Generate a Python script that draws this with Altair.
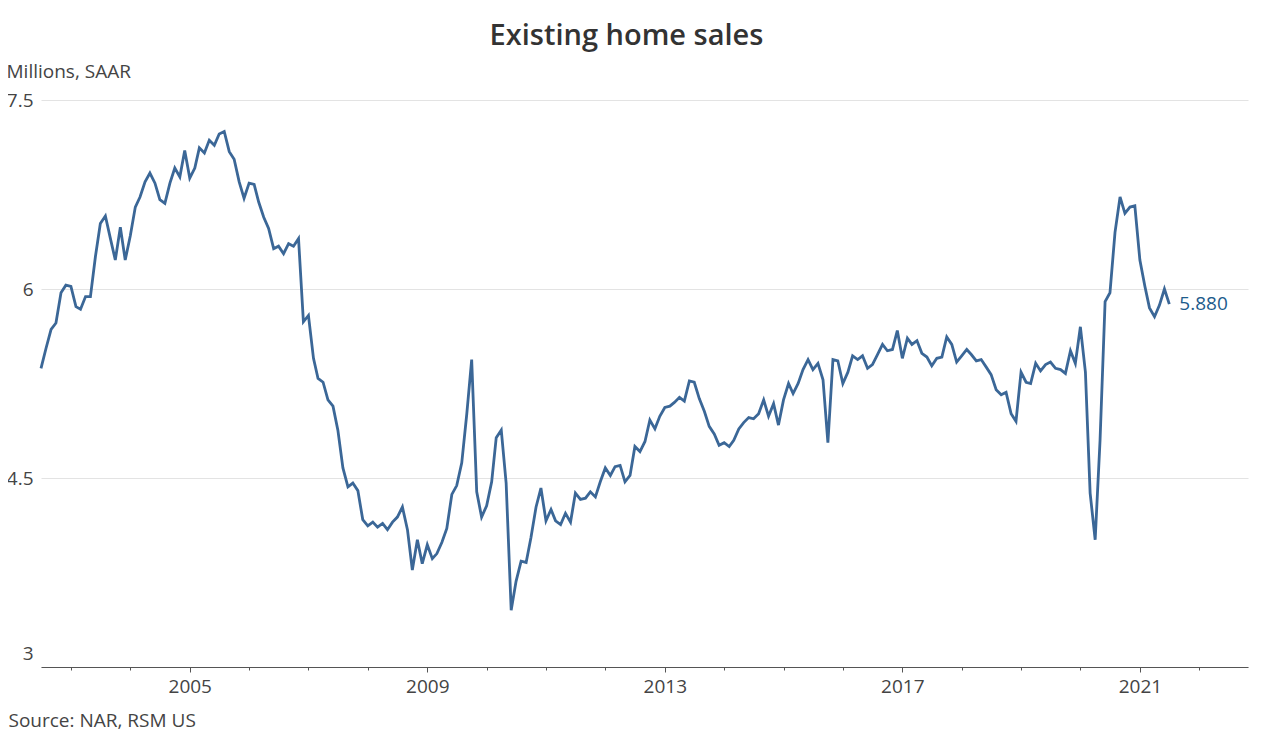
import altair as alt
import pandas as pd

# Existing home sales, millions SAAR, monthly from Jul 2002
v2002 = [5.37, 5.53, 5.68, 5.73, 5.97, 6.03]
v2003 = [6.02, 5.86, 5.84, 5.94, 5.94, 6.26, 6.52, 6.58, 6.40, 6.23, 6.49, 6.23]
v2004 = [6.42, 6.65, 6.73, 6.85, 6.92, 6.84, 6.71, 6.68, 6.84, 6.96, 6.89, 7.10]
v2005 = [6.88, 6.96, 7.12, 7.08, 7.18, 7.14, 7.23, 7.25, 7.09, 7.03, 6.85, 6.72]
v2006 = [6.84, 6.83, 6.69, 6.57, 6.48, 6.32, 6.34, 6.28, 6.36, 6.34, 6.40, 5.74]
v2007 = [5.79, 5.45, 5.29, 5.26, 5.12, 5.07, 4.88, 4.58, 4.43, 4.46, 4.40, 4.17]
v2008 = [4.12, 4.15, 4.11, 4.14, 4.09, 4.15, 4.19, 4.27, 4.09, 3.77, 4.01, 3.82]
v2009 = [3.97, 3.86, 3.90, 3.99, 4.10, 4.37, 4.44, 4.62, 5.01, 5.44, 4.39, 4.19]
v2010 = [4.28, 4.47, 4.82, 4.88, 4.46, 3.45, 3.68, 3.84, 3.83, 4.03, 4.27, 4.42]
v2011 = [4.16, 4.25, 4.16, 4.13, 4.22, 4.15, 4.38, 4.33, 4.34, 4.39, 4.35, 4.47]
v2012 = [4.58, 4.52, 4.59, 4.60, 4.47, 4.52, 4.75, 4.71, 4.79, 4.96, 4.89, 4.99]
v2013 = [5.06, 5.07, 5.10, 5.14, 5.11, 5.27, 5.26, 5.13, 5.03, 4.91, 4.85, 4.76]
v2014 = [4.78, 4.75, 4.80, 4.89, 4.94, 4.98, 4.97, 5.01, 5.12, 4.99, 5.09, 4.92]
v2015 = [5.12, 5.25, 5.17, 5.25, 5.36, 5.44, 5.36, 5.41, 5.28, 4.78, 5.44, 5.43]
v2016 = [5.25, 5.34, 5.47, 5.44, 5.47, 5.37, 5.40, 5.48, 5.56, 5.51, 5.52, 5.67]
v2017 = [5.45, 5.61, 5.56, 5.59, 5.49, 5.46, 5.39, 5.45, 5.46, 5.62, 5.56, 5.42]
v2018 = [5.47, 5.52, 5.48, 5.43, 5.44, 5.38, 5.32, 5.20, 5.16, 5.18, 5.01, 4.95]
v2019 = [5.34, 5.26, 5.25, 5.41, 5.35, 5.40, 5.42, 5.37, 5.36, 5.33, 5.51, 5.41]
v2020 = [5.70, 5.34, 4.38, 4.01, 4.80, 5.90, 5.97, 6.45, 6.73, 6.60, 6.65, 6.66]
v2021 = [6.23, 6.02, 5.85, 5.78, 5.87, 6.00, 5.88]

start_month = "2002-07-01"
y_ticks = [3, 4.5, 6, 7.5]
tick_years = list(range(2003, 2023))
label_every = 4
label_base_year = 2005

values = (v2002 + v2003 + v2004 + v2005 + v2006 + v2007 + v2008 + v2009 + v2010
          + v2011 + v2012 + v2013 + v2014 + v2015 + v2016 + v2017 + v2018
          + v2019 + v2020 + v2021)
dates = pd.date_range(start_month, periods=len(values), freq="MS").strftime("%Y-%m-%d")
df = pd.DataFrame({"date": list(dates), "sales": values})
last = df.tail(1).copy()
last["label"] = last["sales"].map(lambda v: f"{v:.3f}")


def ms(s):
    return int(pd.Timestamp(s, tz="UTC").timestamp() * 1000)


tick_values = [ms(f"{y}-01-01") for y in tick_years]
x_domain = [ms("2002-07-01"), ms("2022-10-28")]

FONT = "Open Sans"
FS = 19
is_major = f"(utcyear(datum.value) - {label_base_year}) % {label_every} == 0"

x_enc = alt.X(
    "date:T",
    scale=alt.Scale(type="utc", domain=x_domain, nice=False),
    axis=alt.Axis(
        values=tick_values,
        labelExpr=f"{is_major} ? utcFormat(datum.value, '%Y') : ''",
        labelOverlap=False,
        labelFlush=False,
        grid=False,
        domainColor="#555555",
        tickColor="#555555",
        tickSize={"condition": {"test": is_major, "value": 5}, "value": 3},
        labelPadding=5,
        labelFontSize=FS,
        labelFont=FONT,
        labelColor="#444444",
        title="Source: NAR, RSM US",
        titleFont=FONT,
        titleFontSize=FS,
        titleFontWeight="normal",
        titleColor="#444444",
        titleAnchor="start",
        titleAlign="left",
        titleBaseline="middle",
        titleX=-33,
        titleY=53,
    ),
)

y_enc = alt.Y(
    "sales:Q",
    scale=alt.Scale(domain=[3, 7.5], nice=False, zero=False),
    axis=alt.Axis(
        values=y_ticks,
        format="~g",
        domain=False,
        ticks=False,
        grid=True,
        gridColor="#e3e3e3",
        labelPadding=8,
        labelFontSize=FS,
        labelFont=FONT,
        labelColor="#444444",
        labelOffset={"condition": {"test": "datum.value == 3", "value": -14}, "value": 0},
        title="Millions, SAAR",
        titleFont=FONT,
        titleFontSize=FS,
        titleFontWeight="normal",
        titleColor="#444444",
        titleAngle=0,
        titleAlign="left",
        titleBaseline="middle",
        titleX=-35,
        titleY=-29,
    ),
)

line = alt.Chart(df).mark_line(color="#3b6797", strokeWidth=2.8).encode(x=x_enc, y=y_enc)

label = alt.Chart(last).mark_text(
    align="left", baseline="middle", dx=10, fontSize=FS, font=FONT, color="#1d5c8c"
).encode(x="date:T", y="sales:Q", text="label:N")

chart = (
    alt.layer(line, label)
    .properties(
        width=1207,
        height=567,
        padding={"left": 33, "top": 92, "right": 8, "bottom": 66},
        autosize=alt.AutoSizeParams(type="none"),
        title=alt.TitleParams(
            "Existing home sales",
            font=FONT,
            fontSize=29,
            fontWeight=600,
            color="#333333",
            anchor="middle",
            dx=-18,
            offset=11,
        ),
        background="white",
    )
    .configure_view(stroke=None)
)

chart.save("out.html", embed_options={"renderer": "svg", "actions": False})
